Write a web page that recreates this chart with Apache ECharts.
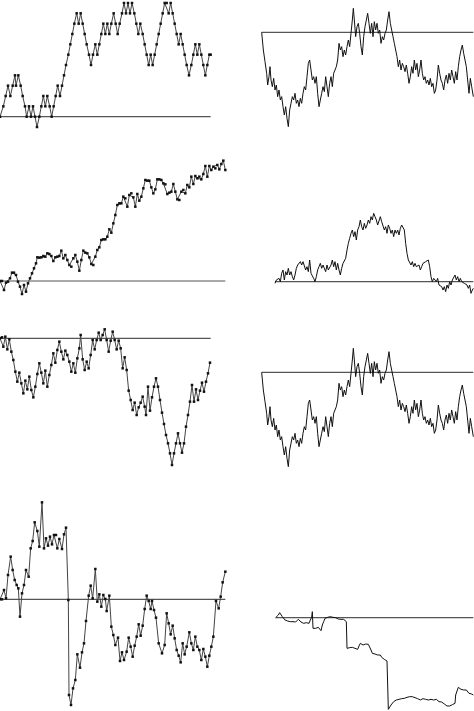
<!DOCTYPE html>
<html><head><meta charset="utf-8">
<script src="https://cdn.jsdelivr.net/npm/echarts@6/dist/echarts.min.js"></script>
<style>html,body{margin:0;padding:0;background:#fff}#c{width:474px;height:711px}</style>
</head><body><div id="c"></div>
<script>
// Left panel 1: ±1 random walk levels
const l1t=[0,10,17,24,31,38,45,48,55,62,68,75,80,87,93,99,105,111,118,124,130,136,142,149,155,161,167,173,180,186,192,198,205,211,217,223,230,236,242,248,254,260,267,273,279,286,292,298,304,310,316,322,328,334,341,347,353,359,366,372,378,384,390,396,403,409,415,421,428,434,440,446,452,458,464,470,476,482,488,494,500,506,512,518,524,530,536,542,548,554,560,567,574,580,586,592,598,604,610,616,622,628,632];
const l1v=[0,1,2,3,2,3,4,3,4,3,2,1,0,1,0,1,0,-1,0,1,2,1,2,1,0,1,2,3,2,3,4,5,6,7,8,9,10,9,10,9,8,7,6,5,6,7,6,7,8,9,8,9,8,9,10,9,8,9,10,11,10,11,10,11,10,9,8,9,8,7,6,5,6,5,6,7,8,9,10,11,11,10,11,10,9,8,7,8,7,6,5,4,5,6,7,6,7,6,5,4,5,6,6];
const l2t=[0,6,12,18,24,30,36,42,48,54,60,66,72,78,84,90,96,102,108,112,118,124,130,136,142,148,154,160,166,172,178,184,190,196,202,208,214,220,226,232,238,244,250,256,262,268,274,280,286,292,298,304,310,316,322,328,334,340,346,352,358,364,370,376,382,388,394,400,406,412,418,424,430,436,442,448,454,460,466,472,478,484,490,496,502,508,514,520,526,532,538,544,550,556,562,568,574,580,586,592,598,604,610,616,622,628,634,640,646,652,658,664,670,676];
const l2y=[393,393,420,398,395,385,368,368,375,395,410,432,405,425,400,385,370,355,340,322,323,322,318,320,310,312,318,333,322,320,318,302,325,315,330,345,350,325,315,335,362,330,302,308,310,322,342,345,320,300,292,270,268,268,260,238,248,220,195,165,160,160,140,145,170,135,130,142,170,132,152,140,115,90,92,92,112,130,118,88,88,90,100,103,132,128,125,102,125,148,150,125,120,130,105,112,80,102,78,85,80,88,72,48,80,48,60,50,55,45,58,42,32,60];
const l3t=[0,6,10,16,22,28,34,40,46,52,58,64,70,76,82,88,94,100,106,112,118,124,130,136,142,148,154,160,166,172,178,184,190,196,202,208,214,220,226,232,238,242,248,254,260,266,272,278,284,290,296,302,308,314,320,326,332,338,344,350,356,362,368,374,380,386,392,398,404,410,416,422,428,434,438,444,450,456,462,468,474,480,486,492,498,504,510,516,522,528,534,540,546,552,558,564,570,576,582,588,594,600,606,612,618,624,630];
const l3y=[55,52,80,50,88,58,95,120,155,185,158,190,220,182,208,170,210,232,200,162,130,158,190,152,200,165,135,100,128,90,65,95,118,92,105,125,155,130,158,115,85,45,118,150,125,145,105,60,88,60,38,60,45,28,60,95,62,35,60,88,62,85,145,112,150,212,240,270,248,285,262,248,230,260,285,200,272,232,200,175,200,240,278,312,345,370,400,435,400,370,340,370,398,370,320,285,245,195,245,208,240,212,188,215,185,160,128];
const l4t=[0,6,12,18,24,32,38,44,50,55,60,66,72,78,86,92,98,104,112,118,126,132,138,144,150,156,162,168,172,178,186,192,198,205,207,213,219,226,232,240,246,252,258,266,272,278,286,292,298,304,310,316,320,328,334,340,346,354,360,366,372,380,386,392,398,404,410,416,422,428,434,440,446,452,456,462,468,476,486,494,500,506,512,518,524,530,536,542,548,554,560,568,574,580,586,592,598,604,610,616,622,628,634,640,648,656,662,668,676];
const l4y=[313,313,285,310,240,185,225,255,270,280,365,295,270,225,245,160,138,82,108,155,22,160,130,152,125,148,120,120,160,132,162,118,98,315,600,630,580,555,478,518,472,445,378,302,272,310,222,320,298,335,300,312,348,302,395,420,450,428,498,472,495,470,428,455,485,452,425,388,422,392,342,302,318,342,318,345,368,445,475,450,355,385,418,392,430,465,482,502,445,478,455,412,445,465,425,455,465,495,462,485,515,482,455,425,318,340,305,262,230];
// Right panels 1 and 3 (same path)
const r1t=[20,25,30,35,38,42,45,48,52,56,60,64,68,72,76,80,84,88,92,96,100,104,108,112,116,120,124,128,132,136,140,144,148,152,156,160,164,168,172,176,180,184,188,192,196,200,204,208,212,216,220,224,228,232,236,240,244,248,252,256,260,264,268,272,276,280,284,288,292,295,298,302,306,310,314,318,322,326,330,334,338,342,346,350,354,358,362,366,370,374,378,382,386,390,394,398,402,406,410,414,418,422,426,430,434,438,442,446,450,454,458,462,466,470,474,478,482,486,490,494,498,502,506,510,514,518,522,526,530,534,538,542,546,550,554,558,562,566,570,574,578,582,586,590,594,598,602,606,610,614,618,622,626,630,634,638,642,646,650,655];
const r1y=[97,150,185,220,255,230,200,240,260,235,270,255,290,270,300,290,320,345,320,355,380,330,310,290,300,280,310,300,320,295,310,280,260,270,230,190,180,210,240,230,250,230,280,320,300,280,260,275,230,260,290,250,230,260,220,210,200,180,130,150,140,170,150,165,140,120,140,100,60,25,60,110,80,70,100,140,165,110,80,60,40,70,100,70,110,65,90,70,100,90,130,110,120,100,90,60,35,70,90,110,130,150,170,200,180,210,190,200,215,195,220,250,230,200,220,180,210,190,230,210,180,220,240,230,250,240,255,235,260,250,280,270,240,195,220,240,250,270,240,225,250,220,240,210,230,250,215,240,200,170,150,135,160,180,200,240,280,235,260,290];
const r2t=[60,64,68,72,76,80,84,88,92,96,100,104,108,112,116,120,124,128,132,136,140,144,148,152,156,160,164,168,172,176,180,184,188,192,196,200,204,208,212,216,220,224,228,232,236,240,244,248,252,256,260,264,268,272,276,280,284,288,292,296,300,304,308,312,316,320,324,328,332,336,340,344,348,352,356,360,364,368,372,376,380,384,388,392,396,400,404,408,412,416,420,424,428,432,436,440,444,448,452,456,460,464,468,472,476,480,484,488,492,496,500,504,508,512,516,520,524,528,532,536,540,544,548,552,556,560,564,568,572,576,580,584,588,592,596,600,604,608,612,616,620,624,628,632,636,640,644,648,652,655];
const r2y=[250,240,245,235,245,220,210,240,215,225,205,225,215,230,240,225,205,195,190,185,195,185,190,210,200,215,180,220,215,235,245,230,210,200,190,205,195,200,215,195,210,205,195,180,200,185,210,190,210,225,205,190,185,175,150,130,115,100,90,110,95,120,90,80,60,80,90,70,85,75,60,70,50,60,40,50,60,75,70,50,65,70,90,80,100,75,85,100,90,110,90,100,90,105,85,75,80,90,130,160,180,185,195,185,200,190,200,205,195,210,200,190,195,185,190,180,200,230,245,235,240,245,235,255,250,260,270,260,275,255,265,245,255,240,235,225,240,230,245,235,245,240,250,245,255,265,255,280,270,265];
const r4t=[62,66,70,74,78,82,86,90,94,98,102,106,110,114,118,122,126,130,134,138,142,146,150,154,158,162,166,170,172,174,178,182,186,190,194,198,202,206,210,214,218,222,226,230,234,238,242,246,250,254,258,262,266,270,274,276,280,284,288,292,296,300,304,308,312,316,320,324,328,332,336,340,344,348,352,356,360,364,368,372,376,380,384,388,392,396,399,400,404,408,412,416,420,424,428,432,436,440,444,448,452,456,460,464,468,472,476,480,484,488,492,496,500,504,508,512,516,520,524,528,532,536,540,544,548,552,556,560,564,568,572,576,580,584,588,592,596,600,602,606,610,614,618,622,626,630,634,638,642,646,650,655];
const r4y=[53,48,45,38,42,50,55,60,62,63,62,65,63,65,64,66,62,58,62,66,65,70,72,68,72,70,60,52,35,85,88,85,90,82,88,92,75,65,55,50,52,48,50,48,52,55,53,55,57,55,58,60,58,62,65,145,140,143,140,142,138,145,140,148,138,130,128,135,130,132,130,133,135,150,160,158,162,160,165,168,165,172,175,178,182,183,185,328,322,315,312,305,305,300,302,298,300,296,298,295,296,292,295,290,288,290,292,293,295,296,298,300,298,296,300,298,296,300,302,298,296,300,302,298,304,305,302,306,310,312,315,318,315,318,312,314,315,310,285,282,262,265,268,272,270,275,270,272,280,275,282,285];

const panels=[
 // ox,oy: zoom origin; h: zoom height; zero: zoom y of baseline; t,y or t,lv
 {ox:0,oy:0,h:390,zero:350,t:l1t,v:l1v.map(a=>350-31*a),x0:0,x1:632,mk:true},
 {ox:0,oy:150,h:450,zero:393,t:l2t,v:l2y,x0:0,x1:676,mk:true},
 {ox:0,oy:320,h:450,zero:55,t:l3t,v:l3y,x0:0,x1:632,mk:true},
 {ox:0,oy:495,h:648,zero:313,t:l4t,v:l4y,x0:0,x1:676,mk:true},
 {ox:255,oy:0,h:405,zero:97,t:r1t,v:r1y,x0:20,x1:655,mk:false},
 {ox:255,oy:200,h:300,zero:245,t:r2t,v:r2y,x0:60,x1:655,mk:false},
 {ox:255,oy:340,h:405,zero:97,t:r1t,v:r1y,x0:20,x1:655,mk:false},
 {ox:255,oy:600,h:333,zero:53,t:r4t,v:r4y,x0:62,x1:655,mk:false}
];
const grid=[],xAxis=[],yAxis=[],series=[];
panels.forEach((p,i)=>{
 grid.push({left:p.ox+p.x0/3,top:p.oy,width:(p.x1-p.x0)/3,height:p.h/3});
 xAxis.push({gridIndex:i,type:'value',min:p.x0,max:p.x1,show:false});
 yAxis.push({gridIndex:i,type:'value',min:p.zero-p.h,max:p.zero,show:false});
 series.push({type:'line',xAxisIndex:i,yAxisIndex:i,data:[[p.x0,0],[p.x1,0]],symbol:'none',silent:true,lineStyle:{color:'#555',width:1.2},z:1});
 series.push({type:'line',xAxisIndex:i,yAxisIndex:i,data:p.t.map((t,k)=>[t,p.zero-p.v[k]]),
  symbol:p.mk?'rect':'none',symbolSize:2.5,itemStyle:{color:'#111'},
  lineStyle:{color:p.mk?'#444':'#111',width:1},animation:false,z:2});
});
const ch=echarts.init(document.getElementById('c'));
ch.setOption({animation:false,grid,xAxis,yAxis,series});
</script></body></html>
